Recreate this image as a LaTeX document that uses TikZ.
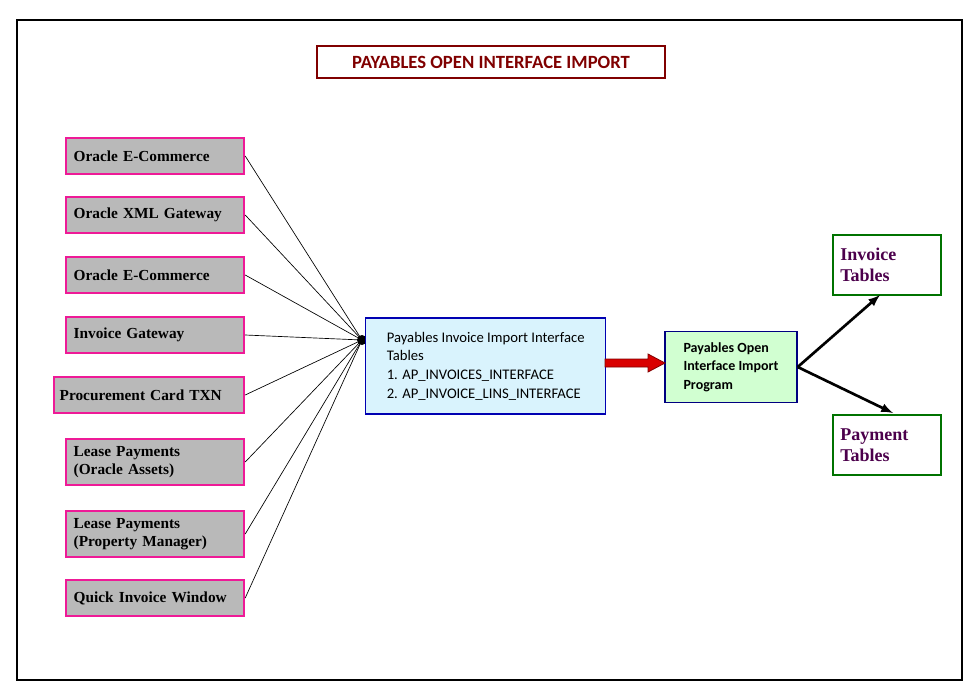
\documentclass[tikz,border=0pt]{standalone}
\usepackage{fontspec}
\setmainfont{Liberation Serif}
\newfontfamily\sans{Carlito}
\begin{document}
\begin{tikzpicture}[x=0.75pt,y=-0.75pt,
 src/.style={draw=magenta!90!white,line width=1.3pt,fill=gray!55,align=left,font=\bfseries\fontsize{11.5}{13}\selectfont},
 tbl/.style={draw=green!45!black,line width=1pt,fill=white,font=\bfseries\fontsize{13.5}{16}\selectfont,text=violet!60!black,align=left,minimum width=81pt,minimum height=45pt,text width=70pt},
 ln/.style={line width=0.5pt}]
\useasboundingbox (0,0) rectangle (980,696);
\draw[line width=2pt] (17,20) rectangle (962,680);
\node[draw=red!50!black,line width=1.3pt,minimum width=261pt,minimum height=24pt,text=red!50!black,font=\sans\bfseries\fontsize{14}{15}\selectfont] (title) at (491,62) {PAYABLES OPEN INTERFACE IMPORT};
\foreach \n/\y/\t in {a/156/Oracle E-Commerce,b/215/Oracle XML Gateway,c/275/Oracle E-Commerce,d/335/Invoice Gateway,h/598/Quick Invoice Window}{
 \node[src,minimum width=134pt,minimum height=27pt,text width=122pt] (\n) at (155,\y) {\t};}
\node[src,minimum width=143pt,minimum height=27pt,text width=134pt] (e) at (149,395) {Procurement Card TXN};
\node[src,minimum width=134pt,minimum height=34pt,text width=122pt] (f) at (155,462) {Lease Payments\\(Oracle Assets)};
\node[src,minimum width=134pt,minimum height=34pt,text width=122pt] (g) at (155,534) {Lease Payments\\(Property Manager)};
\coordinate (hub) at (362,340);
\foreach \n in {a,b,c,d,e,f,g,h} \draw[ln] (\n.east) -- (hub);
\fill (hub) circle (5);
\node[draw=blue!70!black,line width=1pt,fill=cyan!15,minimum width=180pt,minimum height=72pt,inner xsep=7pt,align=left,font=\sans\fontsize{11}{14}\selectfont,anchor=west] (tbls) at (365,366) {Payables Invoice Import Interface\\Tables\\1. AP\_INVOICES\_INTERFACE\\2. AP\_INVOICE\_LINS\_INTERFACE};
\node[draw=blue!50!black,line width=1pt,fill=green!18,minimum width=99pt,minimum height=53pt,align=left,font=\sans\bfseries\fontsize{10.5}{14}\selectfont] (prog) at (731,367) {Payables Open\\Interface Import\\Program};
\draw[draw=red!50!black,fill=red!85!black,line width=0.6pt] (605,359) -- (648,359) -- (648,354) -- (665,363) -- (648,372) -- (648,367) -- (605,367) -- cycle;
\node[tbl] (inv) at (887,265) {Invoice\\Tables};
\node[tbl] (pay) at (887,445) {Payment\\Tables};
\draw[line width=2pt,-latex] (prog.east) -- (880,295);
\draw[line width=2pt,-latex] (prog.east) -- (893,413);
\end{tikzpicture}
\end{document}
